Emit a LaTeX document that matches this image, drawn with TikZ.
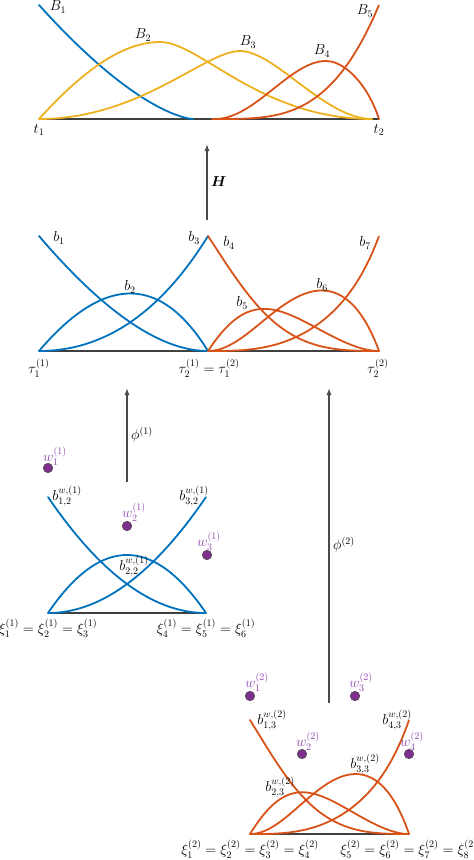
\documentclass[tikz,border=0pt]{standalone}
\usepackage{bm}
\usetikzlibrary{arrows.meta}
\definecolor{mblue}{HTML}{0072BD}
\definecolor{mred}{HTML}{D95319}
\definecolor{myel}{HTML}{EDB120}
\definecolor{mpurp}{HTML}{7E2F8E}
\definecolor{lpurp}{HTML}{8E44AD}
\definecolor{axisgray}{HTML}{404040}
\definecolor{arrgray}{HTML}{4A4A4A}
\begin{document}
\begin{tikzpicture}[x=1pt,y=-1pt,
 lbl/.style={inner sep=0pt, font=\fontsize{14.5}{17}\selectfont},
 wlbl/.style={lbl, text=lpurp},
 curve/.style={line width=1.8pt, line cap=round},
 base/.style={line width=1.4pt, draw=axisgray},
 arr/.style={line width=1.3pt, draw=arrgray, -{Latex[length=7pt,width=5pt]}},
 wdot/.style={circle, fill=mpurp, draw=black!70, line width=0.6pt, minimum size=9.5pt, inner sep=0pt},
 declare function={Dn(\s)=1.2*(1-\s)^3+2.7*\s*(1-\s)^2+4.05*\s^2*(1-\s)+\s^3; rp(\s)=\s+0.16*\s*(1-\s);}
]
\useasboundingbox (0,0) rectangle (474,860);

% ---------- top panel ----------
\draw[base] (39,119) -- (379,119);
\draw[curve, mblue] plot[domain=0:1, samples=60, variable=\s] ({39+154*\s},{119-114*(1-\s)*sqrt(1-\s)});
\draw[curve, myel] (39,119) .. controls (79,75) and (120,42) .. (160,42) .. controls (200,42) and (260,119) .. (372,119);
\draw[curve, myel] (39,119) .. controls (140,119) and (205,51) .. (240,51) .. controls (275,51) and (325,119) .. (372,119);
\draw[curve, mred] (215,119) .. controls (255,119) and (290,61) .. (326,61) .. controls (345,61) and (368,85) .. (379,119);
\draw[curve, mred] plot[domain=0:1, samples=60, variable=\s] ({212+167*\s},{119-114*\s*\s*\s*sqrt(\s)});

\node[lbl] (B1) at (58,7) {$B_1$};
\node[lbl] (B2) at (143,35) {$B_2$};
\node[lbl] (B3) at (248,42) {$B_3$};
\node[lbl] (B4) at (322,51) {$B_4$};
\node[lbl] (B5) at (365,11) {$B_5$};
\node[lbl] (t1) at (39,130) {$t_1$};
\node[lbl] (t2) at (379,130) {$t_2$};

% H arrow
\coordinate (Hs) at (207,220);
\coordinate (He) at (207,144);
\draw[arr] (Hs) -- (He);
\node[lbl, anchor=west] (Hl) at (211,182) {$\bm{H}$};

% ---------- middle panel ----------
\draw[base] (39,351) -- (379,351);
\draw[curve, mblue] plot[domain=0:1, samples=60, variable=\s] ({39+169*rp(\s)},{351-115*(1-\s)^2});
\draw[curve, mblue] plot[domain=0:1, samples=60, variable=\s] ({39+169*rp(\s)},{351-115*2*\s*(1-\s)});
\draw[curve, mblue] plot[domain=0:1, samples=60, variable=\s] ({39+169*rp(\s)},{351-115*\s^2});
\draw[curve, mred] plot[domain=0:1, samples=80, variable=\s] ({208+171*\s},{351-115*1.2*(1-\s)^3/Dn(\s)});
\draw[curve, mred] plot[domain=0:1, samples=80, variable=\s] ({208+171*\s},{351-115*2.7*\s*(1-\s)^2/Dn(\s)});
\draw[curve, mred] plot[domain=0:1, samples=80, variable=\s] ({208+171*\s},{351-115*4.05*\s^2*(1-\s)/Dn(\s)});
\draw[curve, mred] plot[domain=0:1, samples=80, variable=\s] ({208+171*\s},{351-115*\s^3/Dn(\s)});

\node[lbl] (b1) at (59,238) {$b_1$};
\node[lbl] (b2) at (130,287) {$b_2$};
\node[lbl] (b3) at (194,238) {$b_3$};
\node[lbl] (b4) at (229,243) {$b_4$};
\node[lbl] (b5) at (242,303) {$b_5$};
\node[lbl] (b6) at (322,285) {$b_6$};
\node[lbl] (b7) at (365,243) {$b_7$};
\node[lbl] (tau1) at (39,368) {$\tau_1^{(1)}$};
\node[lbl] (tau2) at (209,368) {$\tau_2^{(1)}=\tau_1^{(2)}$};
\node[lbl] (tau3) at (378,368) {$\tau_2^{(2)}$};

% phi arrows
\coordinate (P1s) at (127,482);
\coordinate (P1e) at (127,388);
\draw[arr] (P1s) -- (P1e);
\node[lbl, anchor=west] (phi1) at (131,435) {$\phi^{(1)}$};
\coordinate (P2s) at (329,703);
\coordinate (P2e) at (329,388);
\draw[arr] (P2s) -- (P2e);
\node[lbl, anchor=west] (phi2) at (333,545) {$\phi^{(2)}$};

% ---------- bottom-left panel ----------
\draw[base] (48,613) -- (206,613);
\draw[curve, mblue] plot[domain=0:1, samples=60, variable=\s] ({48+158*\s},{613-116*(1-\s)^2});
\draw[curve, mblue] plot[domain=0:1, samples=60, variable=\s] ({48+158*\s},{613-116*2*\s*(1-\s)});
\draw[curve, mblue] plot[domain=0:1, samples=60, variable=\s] ({48+158*\s},{613-116*\s^2});

\node[wdot] (wa1) at (48,468) {};
\node[wdot] (wa2) at (127,526) {};
\node[wdot] (wa3) at (207,555) {};
\node[wlbl] (wla1) at (55,456) {$w_1^{(1)}$};
\node[wlbl] (wla2) at (134,512) {$w_2^{(1)}$};
\node[wlbl] (wla3) at (209,541) {$w_3^{(1)}$};
\node[lbl] (ba1) at (67,496) {$b_{1,2}^{w,(1)}$};
\node[lbl] (ba2) at (134,566) {$b_{2,2}^{w,(1)}$};
\node[lbl] (ba3) at (194,496) {$b_{3,2}^{w,(1)}$};
\node[lbl] (xia) at (48,628) {$\xi_1^{(1)}=\xi_2^{(1)}=\xi_3^{(1)}$};
\node[lbl] (xib) at (206,628) {$\xi_4^{(1)}=\xi_5^{(1)}=\xi_6^{(1)}$};

% ---------- bottom-right panel ----------
\draw[base] (250,834) -- (409,834);
\draw[curve, mred] plot[domain=0:1, samples=80, variable=\s] ({250+159*\s},{834-114*1.2*(1-\s)^3/Dn(\s)});
\draw[curve, mred] plot[domain=0:1, samples=80, variable=\s] ({250+159*\s},{834-114*2.7*\s*(1-\s)^2/Dn(\s)});
\draw[curve, mred] plot[domain=0:1, samples=80, variable=\s] ({250+159*\s},{834-114*4.05*\s^2*(1-\s)/Dn(\s)});
\draw[curve, mred] plot[domain=0:1, samples=80, variable=\s] ({250+159*\s},{834-114*\s^3/Dn(\s)});

\node[wdot] (wb1) at (250,696) {};
\node[wdot] (wb2) at (302,754) {};
\node[wdot] (wb3) at (355,696) {};
\node[wdot] (wb4) at (409,754) {};
\node[wlbl] (wlb1) at (257,682) {$w_1^{(2)}$};
\node[wlbl] (wlb2) at (308,741) {$w_2^{(2)}$};
\node[wlbl] (wlb3) at (361,682) {$w_3^{(2)}$};
\node[wlbl] (wlb4) at (412,741) {$w_4^{(2)}$};
\node[lbl] (bb1) at (272,720) {$b_{1,3}^{w,(2)}$};
\node[lbl] (bb2) at (280,787) {$b_{2,3}^{w,(2)}$};
\node[lbl] (bb3) at (365,764) {$b_{3,3}^{w,(2)}$};
\node[lbl] (bb4) at (397,720) {$b_{4,3}^{w,(2)}$};
\node[lbl] (xic) at (250,849) {$\xi_1^{(2)}=\xi_2^{(2)}=\xi_3^{(2)}=\xi_4^{(2)}$};
\node[lbl] (xid) at (409,849) {$\xi_5^{(2)}=\xi_6^{(2)}=\xi_7^{(2)}=\xi_8^{(2)}$};
\end{tikzpicture}
\end{document}
